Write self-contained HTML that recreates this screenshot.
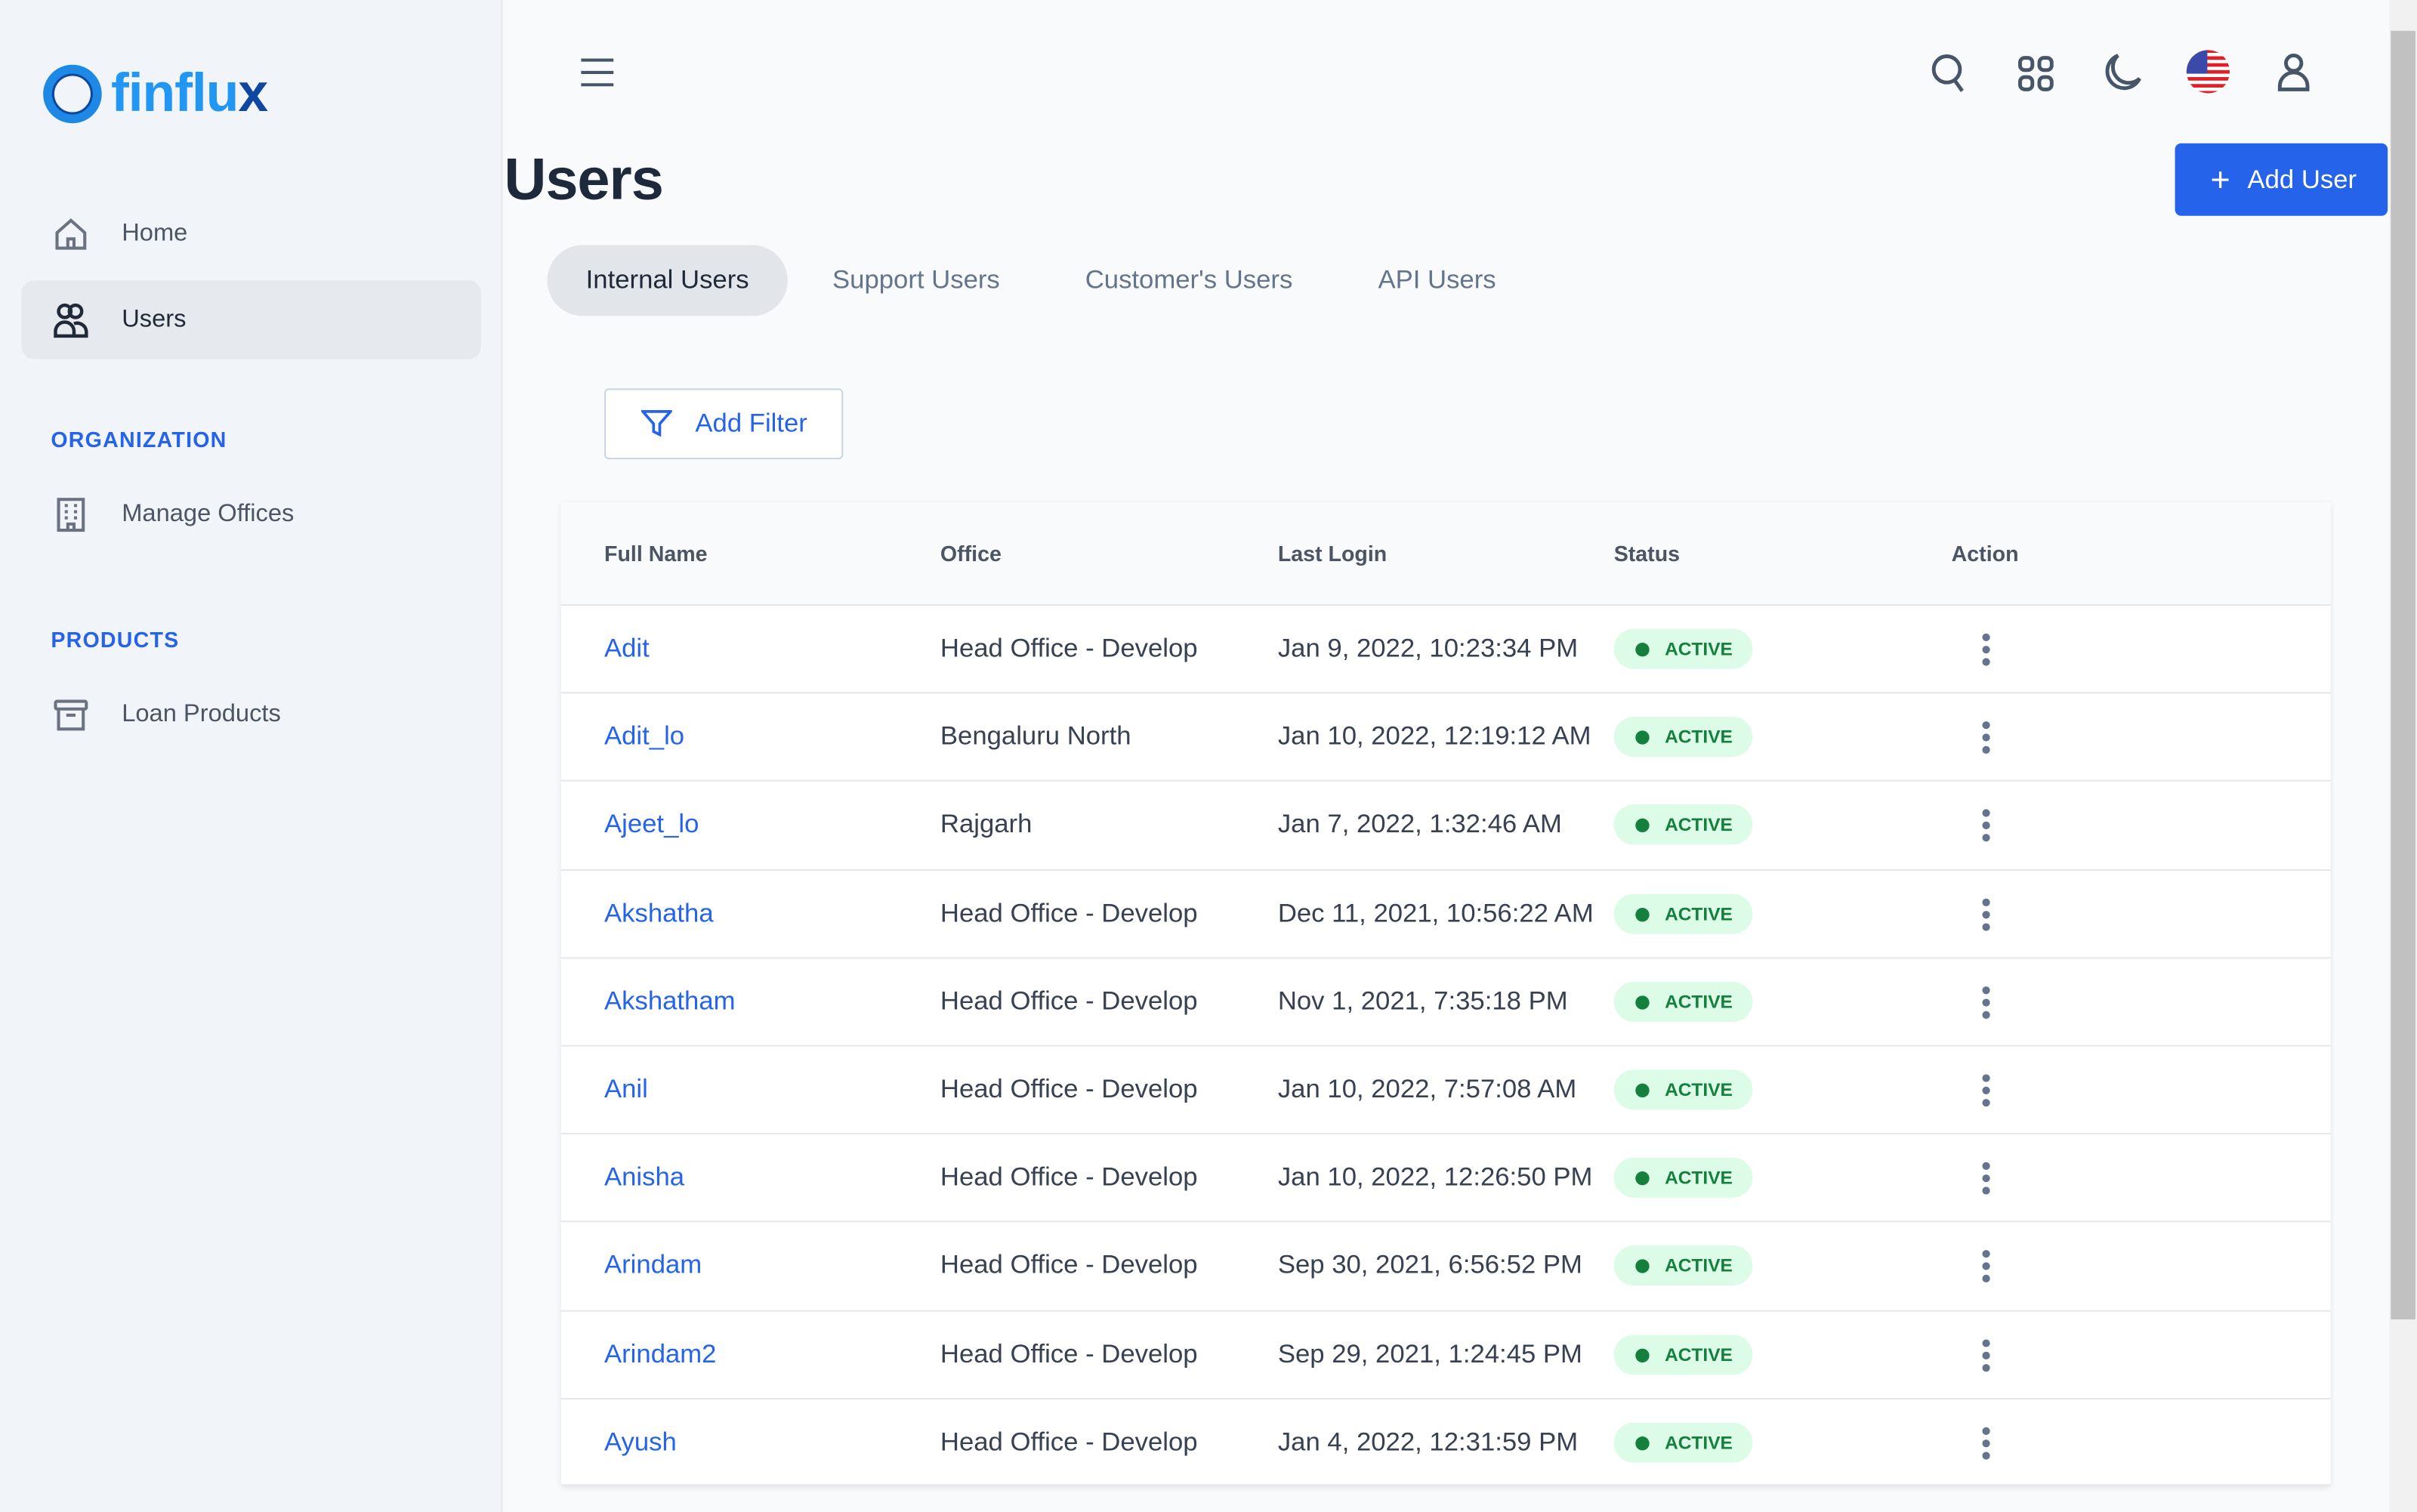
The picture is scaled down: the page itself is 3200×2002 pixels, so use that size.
<!DOCTYPE html>
<html><head><meta charset="utf-8">
<style>
*{box-sizing:border-box;margin:0;padding:0}
html,body{width:3200px;height:2000px;overflow:hidden;background:#f8fafc}
#root{position:absolute;left:0;top:0;width:1568px;height:981px;transform:scale(2.0408);transform-origin:0 0;font-family:"Liberation Sans",sans-serif;background:#f8fafc}
.abs{position:absolute}
#side{left:0;top:0;width:326px;height:981px;background:#f1f4f9;border-right:1px solid #e3e7ee}
.nav{position:absolute;left:14px;width:298px;height:51px;border-radius:8px;display:flex;align-items:center;font-size:16px;color:#4b5563}
.nav svg{position:absolute;left:20px}
.nav span{position:absolute;left:65px}
.sec{position:absolute;left:33px;font-size:14px;font-weight:bold;color:#2563eb;letter-spacing:.6px}
.tab{position:absolute;top:159px;height:46px;line-height:46px;font-size:17px;color:#64748b}
.th{position:absolute;top:351px;font-size:14px;font-weight:bold;color:#4b5563}
.row{position:absolute;left:0;width:1148px;height:57px;border-top:1px solid #e5e7eb}
.row div{position:absolute;top:0;line-height:56px;font-size:17px;color:#374151;white-space:nowrap}
.row .nm{color:#2563eb}
.badge{position:absolute;left:683px;top:15px;width:90px;height:26px;border-radius:13px;background:#dcfce7}
.badge i{position:absolute;left:14px;top:9px;width:9px;height:9px;border-radius:50%;background:#15803d}
.badge b{position:absolute;left:33px;top:0;line-height:26px;font-size:12px;color:#15803d}
.keb{position:absolute;left:922px;top:18px;width:6px;height:22px}
.keb i{display:block;width:5px;height:5px;border-radius:50%;background:#64748b;margin-bottom:3px}
</style></head><body>
<div id="root">
<div id="side" class="abs">
  <div class="abs" style="left:27px;top:41px">
    <svg width="42" height="42" viewBox="0 0 42 42"><circle cx="20" cy="20" r="16" fill="none" stroke="#1e88e5" stroke-width="6"/><circle cx="20" cy="20" r="12.5" fill="none" stroke="#0d47a1" stroke-width="1.5"/></svg>
    <span class="abs" style="left:45px;top:0px;font-size:35px;font-weight:bold;color:#2196f3;letter-spacing:-.5px">finflu<span style="color:#0d47a1">x</span></span>
  </div>
  <div class="nav" style="top:126px">
    <svg width="24" height="24" viewBox="0 0 24 24" fill="none" stroke="#6b7280" stroke-width="2"><path d="M3 11L12 3l9 8v10H3z"/><path d="M10 21v-6h4v6"/></svg><span>Home</span></div>
  <div class="nav" style="top:182px;background:#e6e9ee;color:#1f2937">
    <svg width="24" height="24" viewBox="0 0 24 24" fill="none" stroke="#1f2937" stroke-width="2.2"><circle cx="8" cy="6" r="4"/><circle cx="15" cy="6" r="4"/><path d="M2 22v-3a6 6 0 0 1 12 0v3zM14 22h8v-3a6 6 0 0 0-8-5"/></svg><span>Users</span></div>
  <div class="sec" style="top:277px">ORGANIZATION</div>
  <div class="nav" style="top:308px">
    <svg width="24" height="24" viewBox="0 0 24 24" fill="none" stroke="#6b7280" stroke-width="2"><rect x="4" y="2" width="16" height="20"/><path d="M8 6h2M14 6h2M8 10h2M14 10h2M8 14h2M14 14h2M10 22v-4h4v4"/></svg><span>Manage Offices</span></div>
  <div class="sec" style="top:407px">PRODUCTS</div>
  <div class="nav" style="top:438px">
    <svg width="24" height="24" viewBox="0 0 24 24" fill="none" stroke="#6b7280" stroke-width="2"><rect x="2" y="3" width="20" height="5" rx="1"/><path d="M4 8v13h16V8M9 12h6"/></svg><span>Loan Products</span></div>
</div>

<svg class="abs" style="left:376px;top:37px" width="23" height="20" viewBox="0 0 23 20"><path d="M1 2h21M1 10h21M1 18h21" stroke="#475569" stroke-width="2"/></svg>

<svg class="abs" style="left:1252px;top:34px" width="26" height="26" viewBox="0 0 26 26" fill="none" stroke="#475569" stroke-width="2.4"><circle cx="11" cy="11" r="8.5"/><path d="M16 18l5 7"/></svg>
<svg class="abs" style="left:1309px;top:36px" width="24" height="24" viewBox="0 0 24 24" fill="none" stroke="#475569" stroke-width="2.4"><rect x="1.5" y="1.5" width="8" height="8" rx="3"/><rect x="14" y="1.5" width="8" height="8" rx="3"/><rect x="1.5" y="14" width="8" height="8" rx="3"/><rect x="14" y="14" width="8" height="8" rx="3"/></svg>
<svg class="abs" style="left:1364px;top:34px" width="26" height="26" viewBox="0 0 26 26" fill="none" stroke="#475569" stroke-width="2.4"><path d="M10 2A11 11 0 1 0 24 17 9 9 0 0 1 10 2z"/></svg>
<svg class="abs" style="left:1418px;top:32px" width="29" height="29" viewBox="0 0 29 29"><defs><clipPath id="c"><circle cx="14.5" cy="14.5" r="14"/></clipPath></defs><g clip-path="url(#c)"><rect width="29" height="29" fill="#fff"/><g fill="#e21f26"><rect y="0" width="29" height="2.3"/><rect y="4.5" width="29" height="2.3"/><rect y="9" width="29" height="2.3"/><rect y="13.5" width="29" height="2.3"/><rect y="18" width="29" height="2.3"/><rect y="22.5" width="29" height="2.3"/><rect y="27" width="29" height="2.3"/></g><rect width="14" height="15.8" fill="#3b4aa8"/></g></svg>
<svg class="abs" style="left:1477px;top:34px" width="22" height="26" viewBox="0 0 22 26" fill="none" stroke="#475569" stroke-width="2.4"><circle cx="11" cy="7" r="5"/><path d="M2 24v-2a9 9 0 0 1 18 0v2z"/></svg>

<div class="abs" style="left:327px;top:96px;font-size:38px;font-weight:bold;color:#1e293b;letter-spacing:-.5px">Users</div>
<div class="abs" style="left:1411px;top:93px;width:138px;height:47px;border-radius:4px;background:#2563eb;color:#fff;font-size:17px;line-height:47px"><span style="position:absolute;left:23px;font-size:22px">+</span><span style="position:absolute;left:47px">Add User</span></div>

<div class="tab" style="left:355px;width:156px;background:#e2e6eb;border-radius:23px;color:#1f2937;text-align:center">Internal Users</div>
<div class="tab" style="left:540px">Support Users</div>
<div class="tab" style="left:704px">Customer's Users</div>
<div class="tab" style="left:894px">API Users</div>

<div class="abs" style="left:392px;top:252px;width:155px;height:46px;border:1px solid #cbd5e1;border-radius:3px;background:#fff">
  <svg class="abs" style="left:23px;top:12px" width="20" height="20" viewBox="0 0 20 20" fill="none" stroke="#2563eb" stroke-width="1.8"><path d="M1 2h18l-7 8v7l-4-2v-5z"/></svg>
  <span class="abs" style="left:58px;top:0;line-height:44px;font-size:17px;color:#2563eb">Add Filter</span></div>

<div class="abs" style="left:364px;top:326px;width:1148px;height:638px;background:#fff;box-shadow:0 1px 4px rgba(0,0,0,.1);border-bottom:1px solid #e5e7eb">
  <div class="abs" style="left:0;top:0;width:1148px;height:66px;background:#f9fafb"></div>
  <div class="th" style="left:28px;top:25px">Full Name</div>
  <div class="th" style="left:246px;top:25px">Office</div>
  <div class="th" style="left:465px;top:25px">Last Login</div>
  <div class="th" style="left:683px;top:25px">Status</div>
  <div class="th" style="left:902px;top:25px">Action</div>
  <div id="rows"></div>
</div>

<div class="abs" style="left:1550px;top:0;width:18px;height:981px;background:#f1f1f1"><div style="position:absolute;left:1px;top:20px;width:16px;height:836px;background:#c1c1c1"></div></div>
</div>
<script>
const names=["Adit","Adit_lo","Ajeet_lo","Akshatha","Akshatham","Anil","Anisha","Arindam","Arindam2","Ayush"];
const offices=["Head Office - Develop","Bengaluru North","Rajgarh","Head Office - Develop","Head Office - Develop","Head Office - Develop","Head Office - Develop","Head Office - Develop","Head Office - Develop","Head Office - Develop"];
const logins=["Jan 9, 2022, 10:23:34 PM","Jan 10, 2022, 12:19:12 AM","Jan 7, 2022, 1:32:46 AM","Dec 11, 2021, 10:56:22 AM","Nov 1, 2021, 7:35:18 PM","Jan 10, 2022, 7:57:08 AM","Jan 10, 2022, 12:26:50 PM","Sep 30, 2021, 6:56:52 PM","Sep 29, 2021, 1:24:45 PM","Jan 4, 2022, 12:31:59 PM"];
const rows=document.getElementById('rows');
names.forEach((n,i)=>{
  const r=document.createElement('div');
  r.className='row';
  r.style.top=(66+i*57.2)+'px';
  
  
  r.innerHTML='<div class="nm" style="left:28px">'+n+'</div><div style="left:246px">'+offices[i]+'</div><div style="left:465px">'+logins[i]+'</div><span class="badge"><i></i><b>ACTIVE</b></span><span class="keb"><i></i><i></i><i></i></span>';
  r.querySelector('.nm');
  r.querySelector('.nm');
  r.querySelector('.badge');
  r.querySelector('.badge');
  r.querySelector('.keb');
  r.querySelector('.keb');
  rows.appendChild(r);
});
</script>
</body></html>
